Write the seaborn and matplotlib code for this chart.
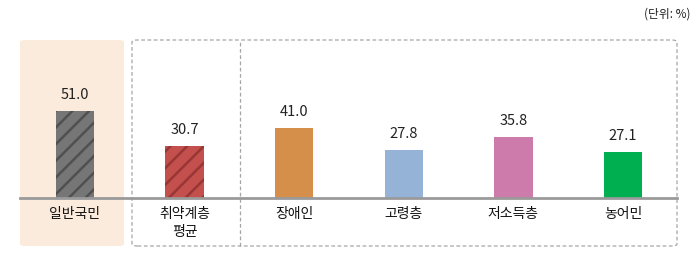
import matplotlib
matplotlib.use("Agg")
import matplotlib.pyplot as plt
import seaborn as sns
import pandas as pd
from matplotlib.patches import FancyBboxPatch
from matplotlib.lines import Line2D

categories = ["일반국민", "취약계층\n평균", "장애인", "고령층", "저소득층", "농어민"]
values = [51.0, 30.7, 41.0, 27.8, 35.8, 27.1]
colors = ["#767676", "#C4504D", "#D68F4A", "#95B3D7", "#CC7BAB", "#00B050"]
hatch_colors = ["#505050", "#973634", None, None, None, None]

sns.set_theme(style="white")
plt.rcParams['font.family'] = ['Noto Sans CJK KR', 'DejaVu Sans']
plt.rcParams['hatch.linewidth'] = 1.8

W, H = 700, 258
fig = plt.figure(figsize=(W / 100, H / 100), dpi=100)

def fx(px):
    return px / W

def fy(py_top):
    return 1 - py_top / H

# background boxes (figure coords)
peach = FancyBboxPatch((fx(20), fy(246)), fx(124) - fx(20), fy(40) - fy(246),
                       boxstyle="round,pad=0,rounding_size=0.008",
                       transform=fig.transFigure, facecolor="#FBEBDC",
                       edgecolor="none", zorder=-2)
fig.patches.append(peach)
dashed = FancyBboxPatch((fx(132), fy(246)), fx(677) - fx(132), fy(40) - fy(246),
                        boxstyle="round,pad=0,rounding_size=0.008",
                        transform=fig.transFigure, facecolor="none",
                        edgecolor="#A6A6A6", linewidth=0.9,
                        linestyle=(0, (3, 2)), zorder=-2)
fig.patches.append(dashed)
fig.lines.append(Line2D([fx(240), fx(240)], [fy(246), fy(40)],
                        transform=fig.transFigure, color="#A6A6A6",
                        linewidth=0.9, linestyle=(0, (3, 2)), zorder=-2))

left, right = 20, 677
base = 197.7
top = 40
ax = fig.add_axes([fx(left), 1 - base / H, fx(right) - fx(left), (base - top) / H])
ax.set_zorder(1)
ax.patch.set_alpha(0)

df = pd.DataFrame({"cat": categories, "val": values})
sns.barplot(data=df, x="cat", y="val", hue="cat", palette=colors,
            width=0.35, legend=False, ax=ax, saturation=1)

step = 109.6
ax.set_xlim((left - 75) / step, (right - 75) / step)
ax.set_ylim(0, (base - top) / 1.7)

for p, hc in zip(ax.patches, hatch_colors):
    if hc is not None:
        p.set_hatch("//")
        p.set_edgecolor(hc)
        p.set_linewidth(0)
    else:
        p.set_edgecolor("none")

for i, v in enumerate(values):
    ax.annotate(f"{v:.1f}", (i, v), xytext=(0, 11.5), textcoords="offset points",
                ha="center", va="center", fontsize=10.5, color="#222222")

for s in ["top", "right", "left"]:
    ax.spines[s].set_visible(False)
ax.spines["bottom"].set_color("#9A9A9A")
ax.spines["bottom"].set_linewidth(2)
ax.set_yticks([])
ax.set_xlabel("")
ax.set_ylabel("")
ax.tick_params(axis="x", length=0, pad=7, labelsize=10, colors="#111111")
for lab in ax.get_xticklabels():
    lab.set_linespacing(1.35)
    lab.set_verticalalignment("top")
    lab.set_fontweight("medium")

fig.text(fx(690), fy(14), "(단위: %)", ha="right", va="center", fontsize=8.5, color="#222222")

fig.savefig("out.png", dpi=100)
